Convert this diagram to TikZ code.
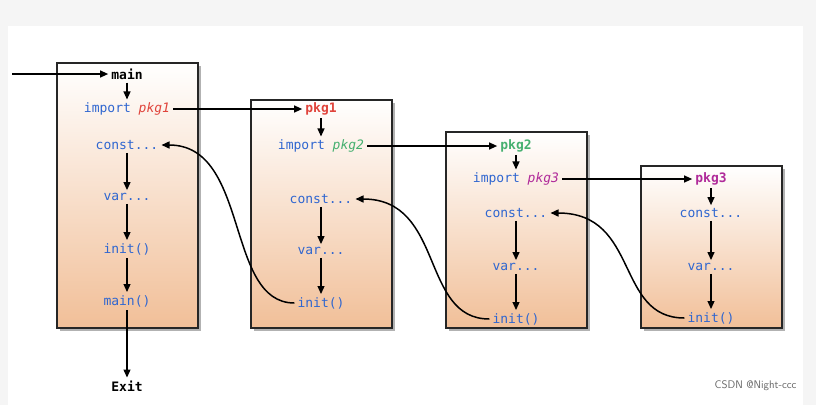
\documentclass[tikz,border=0pt]{standalone}
\usepackage{fontspec}
\setmonofont{DejaVu Sans Mono}
\usetikzlibrary{arrows.meta}
\definecolor{kb}{HTML}{2F66D0}
\definecolor{kr}{HTML}{E0443C}
\definecolor{kg}{HTML}{46B070}
\definecolor{kp}{HTML}{B02A9A}
\definecolor{peach}{HTML}{F1BF98}
\begin{document}
\begin{tikzpicture}[x=1pt,y=-1pt,
  box/.style={draw=black!85,line width=1.3pt,top color=white,bottom color=peach},
  t/.style={font=\ttfamily\fontsize{13}{14}\selectfont,text=kb,inner sep=3pt},
  h/.style={font=\ttfamily\bfseries\fontsize{13}{14}\selectfont,inner sep=3pt},
  a/.style={-{Triangle[length=8pt,width=7pt]},line width=1.2pt},
  c/.style={-{Triangle[length=8pt,width=7pt]},line width=1.5pt}]
\fill[black!4] (0,0) rectangle (816,405);
\fill[white] (8,26) rectangle (803,405);
% shadows
\foreach \xa/\ya/\xb in {57/63/198,251/100/392,446/132/587,641/166/782}
  \fill[black!30] (\xa+3,\ya+3) rectangle (\xb+3,331);
\draw[box] (57,63) rectangle (198,328);
\draw[box] (251,100) rectangle (392,328);
\draw[box] (446,132) rectangle (587,328);
\draw[box] (641,166) rectangle (782,328);
% box1
\node[h] (m) at (127,74) {main};
\node[t] (i1) at (127,109) {import \textcolor{kr}{\itshape pkg1}};
\node[t] (c1) at (127,145) {const...};
\node[t] (v1) at (127,197) {var...};
\node[t] (n1) at (127,249) {init()};
\node[t] (mm) at (127,301) {main()};
\node[h] (ex) at (127,386) {Exit};
\coordinate (st) at (12,74);
% box2
\node[h,text=kr] (p1) at (321,109) {pkg1};
\node[t] (i2) at (321,146) {import \textcolor{kg}{\itshape pkg2}};
\node[t] (c2) at (321,199) {const...};
\node[t] (v2) at (321,251) {var...};
\node[t] (n2) at (321,303) {init()};
% box3
\node[h,text=kg] (p2) at (516,146) {pkg2};
\node[t] (i3) at (516,179) {import \textcolor{kp}{\itshape pkg3}};
\node[t] (c3) at (516,213) {const...};
\node[t] (v3) at (516,267) {var...};
\node[t] (n3) at (516,319) {init()};
% box4
\node[h,text=kp] (p3) at (711,179) {pkg3};
\node[t] (c4) at (711,213) {const...};
\node[t] (v4) at (711,267) {var...};
\node[t] (n4) at (711,318) {init()};
% arrows
\draw[a] (st) -- (m.west);
\foreach \u/\v in {m/i1,c1/v1,v1/n1,n1/mm,mm/ex,p1/i2,c2/v2,v2/n2,p2/i3,c3/v3,v3/n3,p3/c4,c4/v4,v4/n4}
  \draw[a] (\u) -- (\v);
\draw[a] (i1.east) -- (p1.west);
\draw[a] (i2.east) -- (p2.west);
\draw[a] (i3.east) -- (p3.west);
\draw[c] (n2.west) .. controls (225,303) and (250,145) .. (c1.east);
\draw[c] (n3.west) .. controls (420,319) and (445,199) .. (c2.east);
\draw[c] (n4.west) .. controls (615,318) and (640,213) .. (c3.east);
\node[font=\sffamily\fontsize{11}{12}\selectfont,text=black!60,anchor=east] at (800,386) {CSDN @Night-ccc};
\end{tikzpicture}
\end{document}
